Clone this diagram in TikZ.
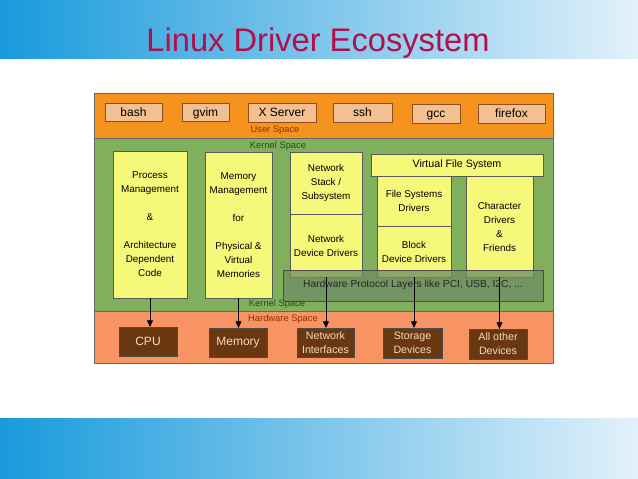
\documentclass[tikz,border=0pt]{standalone}
\usepackage{fontspec}
\setmainfont{Liberation Sans}
\usetikzlibrary{arrows.meta}
\definecolor{bandL}{RGB}{24,154,220}
\definecolor{bandR}{RGB}{226,241,250}
\definecolor{titlec}{RGB}{178,16,74}
\definecolor{userband}{RGB}{246,146,30}
\definecolor{userbox}{RGB}{245,192,145}
\definecolor{userline}{RGB}{140,80,30}
\definecolor{kgreen}{RGB}{128,176,94}
\definecolor{kyellow}{RGB}{246,248,122}
\definecolor{hwband}{RGB}{248,148,100}
\definecolor{hwbox}{RGB}{106,56,16}
\definecolor{hwtext}{RGB}{245,218,190}
\definecolor{protoc}{RGB}{112,142,98}
\definecolor{uslab}{RGB}{150,45,0}
\definecolor{kslab}{RGB}{30,80,20}
\newcommand\pbox[7][]{%
  \node[#1, minimum width={(#5-#3)*0.75pt}, minimum height={(#6-#4)*0.75pt},
        anchor=north west] (#2) at (#3,#4) {#7};}
\tikzset{
  ubox/.style={draw=userline, fill=userbox, line width=0.6pt, inner sep=0pt, outer sep=0pt,
    text height=1.55ex, text depth=0.35ex, font=\fontsize{9}{10}\selectfont},
  kbox/.style={draw=black!65, fill=kyellow, line width=0.6pt, inner sep=0pt, outer sep=0pt,
    align=center, font=\fontsize{7.4}{10.5}\selectfont},
  hbox/.style={draw=black!70, fill=hwbox, line width=0.6pt, inner sep=0pt, outer sep=0pt,
    align=center, text=hwtext, font=\fontsize{9}{10.5}\selectfont},
  hboxs/.style={hbox, font=\fontsize{8}{10.5}\selectfont},
  band/.style={draw=black!60, line width=0.6pt, inner sep=0pt, outer sep=0pt},
  lab/.style={font=\fontsize{7}{8}\selectfont, inner sep=0pt},
  arr/.style={line width=0.6pt, -{Triangle[length=5pt,width=4.5pt]}},
}
\begin{document}
\begin{tikzpicture}[x=0.75pt, y=-0.75pt]
\useasboundingbox (0,0) rectangle (638,478);
\fill[white] (0,0) rectangle (638,478);
% banners
\shade[left color=bandL, right color=bandR] (0,0) rectangle (638,59);
\shade[left color=bandL, right color=bandR] (0,418) rectangle (638,478);
\node[anchor=base, text=titlec, font=\fontsize{24.5}{28}\selectfont, inner sep=0pt] (title) at (318,52) {Linux Driver Ecosystem};
% bands
\pbox[band, fill=userband]{user}{94}{93}{553}{138}{}
\pbox[band, fill=kgreen]{kernel}{94}{138}{553}{311}{}
\pbox[band, fill=hwband]{hw}{94}{311}{553}{363}{}
% user space boxes
\pbox[ubox]{bash}{105}{103}{162}{121}{bash}
\pbox[ubox]{gvim}{182}{103}{229}{121}{gvim}
\pbox[ubox]{xserver}{248}{103}{316}{122}{X Server}
\pbox[ubox]{ssh}{333}{103}{392}{122}{ssh}
\pbox[ubox]{gcc}{412}{104}{460}{123}{gcc}
\pbox[ubox]{firefox}{478}{104}{545}{123}{firefox}
\node[lab, text=uslab] (uslabel) at (275,130) {User Space};
\node[lab, text=kslab] (kslabel) at (278,146) {Kernel Space};
% kernel boxes
\pbox[kbox]{proc}{113}{151}{187}{298}{Process\\Management\\[10.5pt]\&\\[10.5pt]Architecture\\Dependent\\Code}
\pbox[kbox]{mem}{205}{152}{272}{298}{Memory\\Management\\[10.5pt]for\\[10.5pt]Physical \&\\Virtual\\Memories}
\pbox[kbox]{netstack}{290}{152}{362}{214}{Network\\Stack /\\Subsystem}
\pbox[kbox]{netdev}{290}{214}{362}{277}{Network\\Device Drivers}
\pbox[kbox, font=\fontsize{8}{10}\selectfont]{vfs}{371}{154}{543}{176}{Virtual File System}
\pbox[kbox]{fsd}{377}{176}{451}{226}{File Systems\\Drivers}
\pbox[kbox]{block}{377}{226}{451}{277}{Block\\Device Drivers}
\pbox[kbox]{chr}{466}{176}{533}{277}{Character\\Drivers\\\&\\Friends}
% hardware protocol layer
\pbox[draw=black!70, line width=0.6pt, fill=protoc, fill opacity=0.78,
  inner sep=0pt, outer sep=0pt]{proto}{283}{270}{543}{301}{}
\node[inner sep=0pt, font=\fontsize{7.7}{9}\selectfont, text=black!85] (prototext) at (413,285) {Hardware Protocol Layers like PCI, USB, I2C, ...};
\node[lab, text=kslab] (kslabel2) at (277,304) {Kernel Space};
\node[lab, text=uslab] (hslabel) at (283,319) {Hardware Space};
% hardware boxes
\pbox[hbox]{cpu}{119}{327}{177}{356}{CPU}
\pbox[hbox]{memory}{209}{328}{267}{357}{Memory}
\pbox[hboxs]{netif}{297}{328}{354}{357}{Network\\Interfaces}
\pbox[hboxs]{storage}{383}{328}{442}{358}{Storage\\Devices}
\pbox[hboxs]{other}{469}{329}{527}{359}{All other\\Devices}
% arrows
\draw[arr] (proc.south) -- (proc.south |- cpu.north);
\draw[arr] (mem.south) -- (mem.south |- memory.north);
\draw[arr] (netdev.south) -- (netdev.south |- netif.north);
\draw[arr] (block.south) -- (block.south |- storage.north);
\draw[arr] (chr.south) -- (chr.south |- other.north);
\end{tikzpicture}
\end{document}
